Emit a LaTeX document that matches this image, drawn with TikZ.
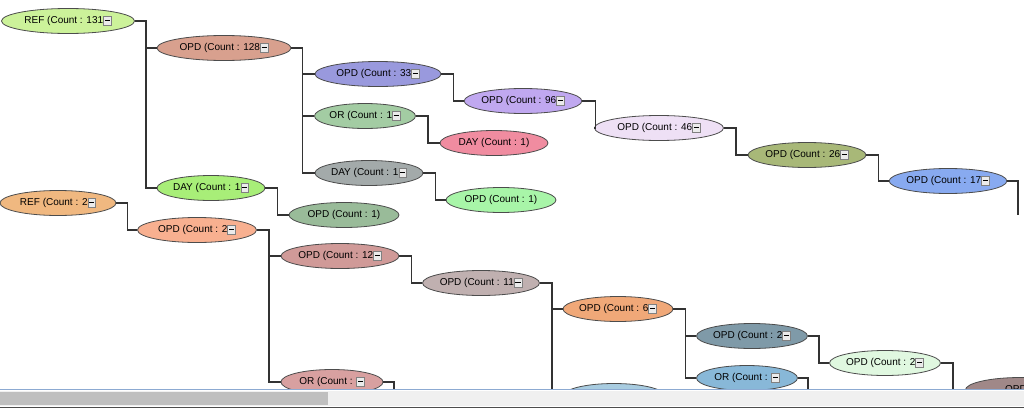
\documentclass[tikz,border=0pt]{standalone}
\usepackage{fontspec}
\setmainfont{Liberation Sans}
\usetikzlibrary{shapes.geometric}
\newcommand\mbx{{\setlength\fboxsep{0.5pt}\setlength\fboxrule{0.3pt}\raisebox{-0.6pt}{\fcolorbox{gray}{black!8}{\rule[1.5pt]{2.6pt}{0.5pt}\rule{0pt}{3.4pt}}}}}
\tikzset{
 e/.style={ellipse,draw=black!70,line width=0.4pt,inner sep=0pt,minimum height=12.5pt,minimum width=#1*0.5pt,font=\fontsize{5}{6}\selectfont},
 c/.style={draw=black!80,line width=0.7pt}
}
\begin{document}
\begin{tikzpicture}[x=0.5pt,y=-0.5pt]
\useasboundingbox (0,0) rectangle (1024,418);
% nodes
\node[e=133,fill={rgb,255:red,204;green,242;blue,154}] (r1) at (68,21) {REF (Count : 131\mbx};
\node[e=134,fill={rgb,255:red,216;green,160;blue,142}] (a1) at (224,48) {OPD (Count : 128\mbx};
\node[e=126,fill={rgb,255:red,153;green,153;blue,221}] (a2) at (378,74) {OPD (Count : 33\mbx};
\node[e=101,fill={rgb,255:red,163;green,204;blue,163}] (a3) at (365,116) {OR (Count : 1\mbx};
\node[e=108,fill={rgb,255:red,163;green,170;blue,170}] (a4) at (369,173) {DAY (Count : 1\mbx};
\node[e=108,fill={rgb,255:red,168;green,238;blue,120}] (b1) at (211,188) {DAY (Count : 1\mbx};
\node[e=110,fill={rgb,255:red,153;green,187;blue,153}] (b2) at (344,215) {OPD (Count : 1)};
\node[e=117,fill={rgb,255:red,192;green,168;blue,240}] (a5) at (523,101) {OPD (Count : 96\mbx};
\node[e=108,fill={rgb,255:red,240;green,140;blue,160}] (a6) at (494,143) {DAY (Count : 1)};
\node[e=110,fill={rgb,255:red,168;green,245;blue,168}] (a7) at (501,200) {OPD (Count : 1)};
\node[e=129,fill={rgb,255:red,238;green,224;blue,245}] (a8) at (659,128) {OPD (Count : 46\mbx};
\node[e=118,fill={rgb,255:red,168;green,184;blue,120}] (a9) at (807,155) {OPD (Count : 26\mbx};
\node[e=116,fill={rgb,255:red,136;green,170;blue,240}] (a10) at (948,181) {OPD (Count : 17\mbx};
\coordinate (off1) at (1018,215);
\node[e=116,fill={rgb,255:red,240;green,184;blue,128}] (r2) at (58,203) {REF (Count : 2\mbx};
\node[e=119,fill={rgb,255:red,248;green,176;blue,144}] (c1) at (197,230) {OPD (Count : 2\mbx};
\node[e=118,fill={rgb,255:red,208;green,154;blue,152}] (c2) at (340,256) {OPD (Count : 12\mbx};
\node[e=117,fill={rgb,255:red,192;green,176;blue,176}] (c3) at (481,283) {OPD (Count : 11\mbx};
\node[e=110,fill={rgb,255:red,240;green,168;blue,120}] (c4) at (618,309) {OPD (Count : 6\mbx};
\node[e=111,fill={rgb,255:red,127;green,154;blue,168}] (c5) at (752,336) {OPD (Count : 2\mbx};
\node[e=101,fill={rgb,255:red,136;green,184;blue,216}] (c6) at (747,378) {OR (Count : \mbx};
\node[e=111,fill={rgb,255:red,224;green,248;blue,224}] (c7) at (885,363) {OPD (Count : 2\mbx};
\node[e=102,fill={rgb,255:red,216;green,160;blue,160}] (c8) at (332,382) {OR (Count : \mbx};
\node[e=102,fill={rgb,255:red,168;green,204;blue,224}] (c9) at (614,396) {};
\node[e=110,fill={rgb,255:red,160;green,136;blue,136},anchor=west] (c10) at (965,390) {\quad OPD (Co};
\coordinate (off2) at (808,400);
\coordinate (off3) at (394,400);
% connectors
\draw[c] (r1.east) -- ++(11,0) |- (a1.west);
\draw[c] (r1.east) -- ++(11,0) |- (b1.west);
\draw[c] (a1.east) -- ++(11,0) |- (a2.west);
\draw[c] (a1.east) -- ++(11,0) |- (a3.west);
\draw[c] (a1.east) -- ++(11,0) |- (a4.west);
\draw[c] (b1.east) -- ++(12,0) |- (b2.west);
\draw[c] (a2.east) -- ++(12,0) |- (a5.west);
\draw[c] (a3.east) -- ++(12,0) |- (a6.west);
\draw[c] (a4.east) -- ++(12,0) |- (a7.west);
\draw[c] (a5.east) -- ++(13,0) |- (a8.west);
\draw[c] (a8.east) -- ++(12,0) |- (a9.west);
\draw[c] (a9.east) -- ++(12,0) |- (a10.west);
\draw[c] (a10.east) -| (off1);
\draw[c] (r2.east) -- ++(11,0) |- (c1.west);
\draw[c] (c1.east) -- ++(12,0) |- (c2.west);
\draw[c] (c1.east) -- ++(12,0) |- (c8.west);
\draw[c] (c2.east) -- ++(12,0) |- (c3.west);
\draw[c] (c3.east) -- ++(12,0) |- (c4.west);
\draw[c] (c3.east) -- ++(12,0) |- (c9.west);
\draw[c] (c4.east) -- ++(12,0) |- (c5.west);
\draw[c] (c4.east) -- ++(12,0) |- (c6.west);
\draw[c] (c5.east) -- ++(11,0) |- (c7.west);
\draw[c] (c7.east) -- ++(12,0) |- (c10.west);
\draw[c] (c6.east) -| (off2);
\draw[c] (c8.east) -| (off3);
% scrollbar
\fill[white] (0,389) rectangle (1024,418);
\draw[color={rgb,255:red,140;green,170;blue,210},line width=0.8pt] (0,389.5) -- (1024,389.5);
\fill[black!6] (0,391) rectangle (1024,406);
\fill[black!25] (0,392) rectangle (328,405);
\draw[black!70,line width=0.5pt] (0,407) -- (1024,407);
\end{tikzpicture}
\end{document}
